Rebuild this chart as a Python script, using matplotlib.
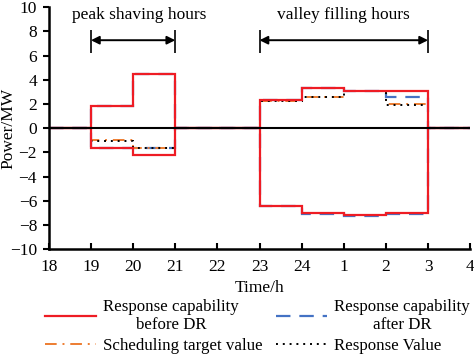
"""DR response capability chart"""
import matplotlib.pyplot as plt
import numpy as np

plt.rcParams["font.family"] = ["Liberation Serif", "DejaVu Serif"]
plt.rcParams["font.size"] = 12.5

# %% data (hour slots 18-19 ... 3-4)
hour_labels = ["18", "19", "20", "21", "22", "23", "24", "1", "2", "3", "4"]
before_up = [0, 1.82, 4.45, 0, 0, 2.3, 3.28, 3.08, 3.08, 0]
before_low = [0, -1.6, -2.23, 0, 0, -6.45, -7.0, -7.18, -7.05, 0]
after_up = [0, 1.82, 4.45, 0, 0, 2.3, 3.28, 3.08, 2.6, 0]
after_low = [0, -1.6, -1.65, 0, 0, -6.45, -7.12, -7.3, -7.12, 0]
target = [0, -0.95, -1.65, 0, 0, 2.25, 2.55, 3.05, 1.98, 0]
response = [0, -1.05, -1.65, 0, 0, 2.25, 2.6, 3.05, 1.9, 0]

edges = np.arange(len(hour_labels))

# %% plot
fig = plt.figure(figsize=(4.74, 3.59), dpi=100)
ax = fig.add_axes([0.103, 0.306, 0.889, 0.674])

blue, orange, red = "#4472c4", "#ed7d31", "#ee1c24"
ax.stairs(after_up, edges, baseline=None, color=blue, lw=1.6, ls=(0, (6.5, 4)))
ax.stairs(after_low, edges, baseline=None, color=blue, lw=1.6, ls=(0, (6.5, 4)),
          label="Response capability\nafter DR")
ax.stairs(target, edges, baseline=None, color=orange, lw=1.4, ls=(0, (6, 3, 1, 3)),
          label="Scheduling target value")
ax.stairs(response, edges, baseline=None, color="black", lw=1.4, ls=(0, (1, 2.5)),
          label="Response Value")
ax.stairs(before_up, edges, baseline=None, color=red, lw=1.6)
ax.stairs(before_low, edges, baseline=None, color=red, lw=1.6,
          label="Response capability\nbefore DR")
ax.axhline(0, color="black", lw=1.5, zorder=5)

# peak / valley annotations
for x0, x1, tx, txt in [(1, 3, 2.15, "peak shaving hours"),
                        (5, 9, 7.0, "valley filling hours")]:
    ax.annotate("", xy=(x0, 7.27), xytext=(x1, 7.27),
                arrowprops=dict(arrowstyle="<|-|>", color="black", lw=1.4,
                                mutation_scale=12, shrinkA=0, shrinkB=0))
    ax.vlines([x0, x1], 6.25, 8.15, color="black", lw=1.2)
    ax.text(tx, 9.35, txt, ha="center", va="center")

ax.set_xlim(0, 10)
ax.set_ylim(-10, 10)
ax.set_xticks(edges)
ax.set_xticklabels(hour_labels)
ax.set_yticks(np.arange(-10, 11, 2))
ax.tick_params(axis="x", direction="in", length=4, width=1.5, pad=7)
ax.tick_params(axis="y", direction="out", length=4.5, width=1.5, pad=4)
for s in ["top", "right"]:
    ax.spines[s].set_visible(False)
for s in ["left", "bottom"]:
    ax.spines[s].set_linewidth(1.8)
ax.set_xlabel("Time/h", labelpad=4)
ax.set_ylabel("Power/MW")
ax.yaxis.set_label_coords(-0.078, 0.5)

handles, labels = ax.get_legend_handles_labels()
order = [3, 1, 0, 2]
leg = fig.legend([handles[i] for i in order], [labels[i] for i in order],
                 loc="upper left", bbox_to_anchor=(45 / 474, 0.168), ncol=2,
                 frameon=False, fontsize=12.2, handlelength=3.0,
                 handletextpad=0.45, columnspacing=0.75, labelspacing=0.3,
                 borderpad=0, borderaxespad=0)
for t in leg.get_texts():
    t.set_multialignment("center")

fig.savefig("out.png")
